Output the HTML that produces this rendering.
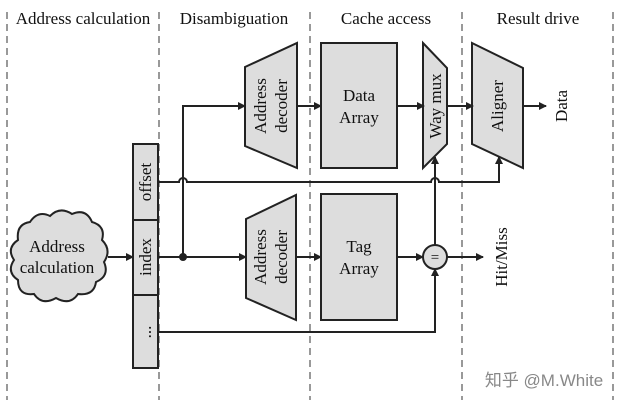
<!DOCTYPE html>
<html><head><meta charset="utf-8"><style>
body{margin:0;background:#fff}
svg{display:block}
text{font-family:"Liberation Serif",serif;fill:#111}
</style></head><body>
<svg width="625" height="405" viewBox="0 0 625 405" xmlns="http://www.w3.org/2000/svg">
<defs><marker id="a" markerWidth="8" markerHeight="8" refX="7" refY="4" orient="auto" markerUnits="userSpaceOnUse"><path d="M0,0 L8,4 L0,8 z" fill="#222"/></marker></defs>
<g stroke="#333" stroke-width="1" stroke-dasharray="7,5">
<line x1="7" y1="12" x2="7" y2="400"/><line x1="159" y1="12" x2="159" y2="400"/>
<line x1="310" y1="12" x2="310" y2="400"/><line x1="462" y1="12" x2="462" y2="400"/>
<line x1="613" y1="12" x2="613" y2="400"/>
</g>
<g font-size="17" text-anchor="middle">
<text x="83" y="24">Address calculation</text>
<text x="234" y="24">Disambiguation</text>
<text x="386" y="24">Cache access</text>
<text x="538" y="24">Result drive</text>
</g>
<g stroke="#222" stroke-width="2" fill="#ddd">
<path d="M30,222 q8,-12 20,-6 q10,-10 22,-2 q14,-6 20,8 q14,4 10,18 q10,10 2,22 q6,14 -8,20 q-2,14 -18,12 q-8,12 -22,4 q-14,8 -22,-4 q-16,2 -16,-14 q-12,-8 -4,-20 q-8,-12 4,-20 q-2,-16 12,-18 z"/>
<rect x="133" y="144" width="25" height="224"/>
<line x1="133" y1="220" x2="158" y2="220"/><line x1="133" y1="295" x2="158" y2="295"/>
<path d="M245,67 L297,43 L297,168 L245,146 z"/>
<path d="M246,219 L296,195 L296,320 L246,298 z"/>
<rect x="321" y="43" width="76" height="125"/>
<rect x="321" y="194" width="76" height="126"/>
<path d="M423,43 L447,68 L447,144 L423,168 z"/>
<path d="M472,43 L523,68 L523,168 L472,144 z"/>
<circle cx="435" cy="257" r="12"/>
</g>
<g stroke="#222" stroke-width="2" fill="none">
<line x1="108" y1="257" x2="133" y2="257" marker-end="url(#a)"/>
<line x1="158" y1="257" x2="246" y2="257" marker-end="url(#a)"/>
<path d="M183,257 L183,106 L245,106" marker-end="url(#a)"/>
<path d="M158,182 L179,182 a4,4 0 0 1 8,0 L431,182 a4,4 0 0 1 8,0 L499,182 L499,157" marker-end="url(#a)"/>
<line x1="297" y1="106" x2="321" y2="106" marker-end="url(#a)"/>
<line x1="296" y1="257" x2="321" y2="257" marker-end="url(#a)"/>
<line x1="397" y1="106" x2="424" y2="106" marker-end="url(#a)"/>
<line x1="447" y1="106" x2="473" y2="106" marker-end="url(#a)"/>
<line x1="523" y1="106" x2="546" y2="106" marker-end="url(#a)"/>
<line x1="397" y1="257" x2="423" y2="257" marker-end="url(#a)"/>
<line x1="447" y1="257" x2="483" y2="257" marker-end="url(#a)"/>
<line x1="435" y1="245" x2="435" y2="157" marker-end="url(#a)"/>
<path d="M158,332 L435,332 L435,269" marker-end="url(#a)"/>
</g>
<circle cx="183" cy="257" r="4" fill="#222"/>
<g font-size="17" text-anchor="middle">
<text x="57" y="252">Address</text><text x="57" y="273">calculation</text>
<text x="359" y="101">Data</text><text x="359" y="123">Array</text>
<text x="359" y="252">Tag</text><text x="359" y="274">Array</text>
<text x="435" y="262" font-size="15">=</text>
<text transform="translate(151,182) rotate(-90)">offset</text>
<text transform="translate(151,257) rotate(-90)">index</text>
<text transform="translate(151,332) rotate(-90)">...</text>
<text transform="translate(266,106) rotate(-90)">Address</text>
<text transform="translate(287,106) rotate(-90)">decoder</text>
<text transform="translate(266,257) rotate(-90)">Address</text>
<text transform="translate(287,257) rotate(-90)">decoder</text>
<text transform="translate(441,106) rotate(-90)">Way mux</text>
<text transform="translate(503,106) rotate(-90)">Aligner</text>
<text transform="translate(567,106) rotate(-90)">Data</text>
<text transform="translate(507,257) rotate(-90)">Hit/Miss</text>
</g>
<text x="544" y="386" font-size="17" text-anchor="middle" style="font-family:'Liberation Sans','Noto Sans CJK SC',sans-serif;fill:#888">知乎 @M.White</text>
</svg>
</body></html>
